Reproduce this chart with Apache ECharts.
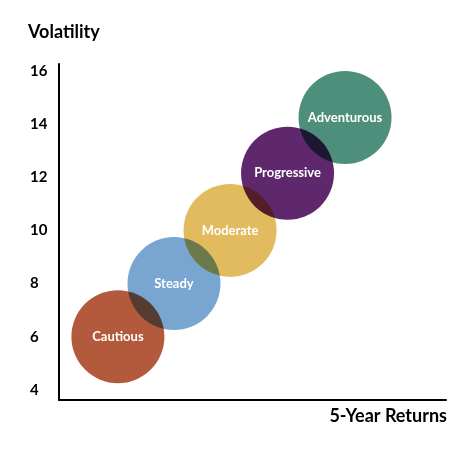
<!DOCTYPE html>
<html>
<head>
    <meta charset="utf-8">
    <title>risk profiles</title>
    <script src="https://cdn.jsdelivr.net/npm/echarts@6/dist/echarts.min.js"></script>
    <style>
        html, body { margin: 0; padding: 0; background: #fff; }
        #main { width: 474px; height: 451px; }
    </style>
</head>
<body>
    <div id="main"></div>
    <script>
        // profile data
        var profiles = ['Cautious', 'Steady', 'Moderate', 'Progressive', 'Adventurous'];
        var returns5y = [2.1, 4.1, 6.1, 8.15, 10.2];
        var volatility = [6, 8, 10, 12.15, 14.25];
        var colors = ['#b35a3c', '#79a6d0', '#e2bb5e', '#5f286c', '#4e8f7b'];
        var yTicks = [4, 6, 8, 10, 12, 14, 16];

        var chart = echarts.init(document.getElementById('main'), null, { renderer: 'canvas' });

        var points = [];
        for (var i = 0; i < profiles.length; i++) {
            points.push({
                name: profiles[i],
                value: [returns5y[i], volatility[i]],
                itemStyle: { color: colors[i], opacity: 1 }
            });
        }

        var option = {
            backgroundColor: '#ffffff',
            animation: false,
            textStyle: { fontFamily: 'Lato' },
            title: [
                {
                    text: 'Volatility',
                    left: 23, top: 18,
                    textStyle: { fontFamily: 'Lato', fontSize: 18, fontWeight: 'bold', color: '#000' }
                },
                {
                    text: '5-Year Returns',
                    right: 22, top: 402,
                    textStyle: { fontFamily: 'Lato', fontSize: 18, fontWeight: 'bold', color: '#000' }
                }
            ],
            grid: { left: 59, right: 28, top: 64, bottom: 51 },
            xAxis: {
                type: 'value',
                min: 0, max: 13.8,
                axisLine: { show: true, lineStyle: { color: '#000', width: 2 } },
                axisTick: { show: false },
                axisLabel: { show: false },
                splitLine: { show: false }
            },
            yAxis: {
                type: 'value',
                min: 3.62, max: 16.26,
                axisLine: { show: true, lineStyle: { color: '#000', width: 2 } },
                axisTick: { show: false },
                splitLine: { show: false },
                axisLabel: {
                    customValues: yTicks,
                    align: 'left',
                    margin: 29,
                    fontFamily: 'Lato',
                    fontSize: 15,
                    fontWeight: 'bold',
                    color: '#000'
                }
            },
            series: [{
                type: 'scatter',
                symbol: 'circle',
                symbolSize: 93,
                blendMode: 'multiply',
                itemStyle: { opacity: 1 },
                data: points,
                label: {
                    show: true,
                    position: 'inside',
                    formatter: '{b}',
                    fontFamily: 'Lato',
                    fontSize: 13,
                    fontWeight: 'bold',
                    color: '#ffffff'
                },
                emphasis: { disabled: true }
            }]
        };
        chart.setOption(option);

        window.onresize = function () {
            chart.resize();
        };
    </script>
</body>
</html>
